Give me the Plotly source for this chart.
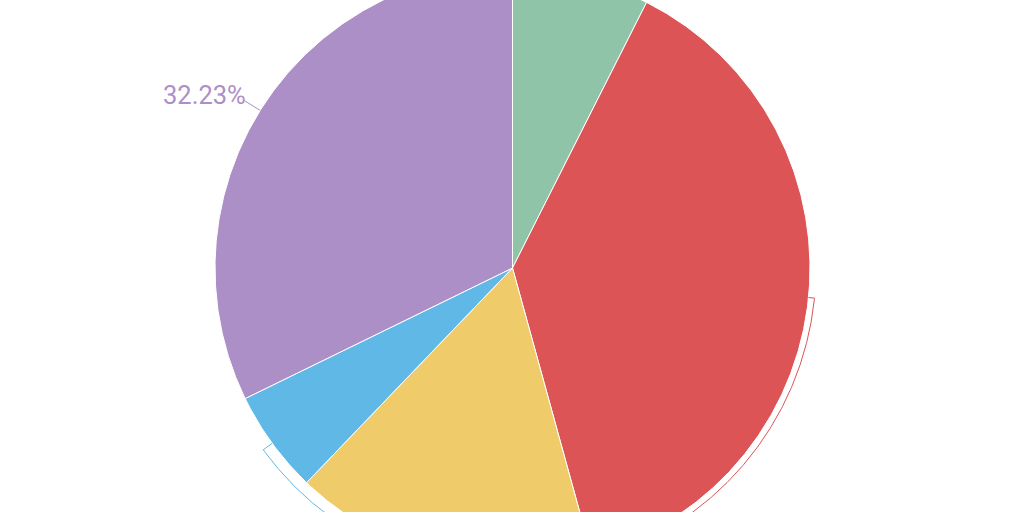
import numpy as np
import plotly.graph_objects as go

# slice data, clockwise from 12 o'clock
categories = ['A', 'B', 'C', 'D', 'E']
values = [7.44, 38.28, 16.45, 5.60, 32.23]
colors = ['#8fc4a9', '#dc5455', '#efcb6a', '#5fb8e6', '#ad8fc7']
labelled = ['E']                 # only this slice shows its label
arc_slices = {'B': 1.020, 'D': 1.037}   # slices with a curved guide line, radius in pie radii

# pixel geometry of the 1024x512 page
W, H = 1024, 512
CX, CY, R_PX = 512.5, 268, 297.5


def polar_xy(angle_deg, r):
    a = np.radians(angle_deg)
    return r * np.sin(a), r * np.cos(a)


total = sum(values)
bounds = np.concatenate([[0], np.cumsum(values) / total * 360])

fig = go.Figure()

for i, name in enumerate(categories):
    a0, a1 = bounds[i], bounds[i + 1]
    ang = np.linspace(a0, a1, max(int((a1 - a0) * 3), 4))
    ax, ay = polar_xy(ang, 1.0)
    fig.add_trace(go.Scatter(
        x=np.concatenate([[0], ax, [0]]),
        y=np.concatenate([[0], ay, [0]]),
        fill='toself', fillcolor=colors[i], mode='lines',
        line=dict(color='white', width=1),
        name=name, hoveron='fills',
        text=f'{name}: {values[i] / total * 100:.2f}%', hoverinfo='text'
    ))

for i, name in enumerate(categories):
    mid = (bounds[i] + bounds[i + 1]) / 2
    if name in arc_slices:
        r = arc_slices[name]
        end = 180
        ang = np.linspace(mid, end, int(abs(end - mid) * 3))
        ax, ay = polar_xy(ang, r)
        tx, ty = polar_xy(mid, 1.0)
        fig.add_trace(go.Scatter(
            x=np.concatenate([[tx], ax]), y=np.concatenate([[ty], ay]),
            mode='lines', line=dict(color=colors[i], width=1),
            hoverinfo='skip', showlegend=False
        ))
    if name in labelled:
        x0, y0 = polar_xy(mid, 1.0)
        x1, y1 = polar_xy(mid, 1.062)
        fig.add_trace(go.Scatter(
            x=[x0, x1], y=[y0, y1], mode='lines',
            line=dict(color=colors[i], width=1),
            hoverinfo='skip', showlegend=False
        ))
        fig.add_annotation(
            x=x1, y=y1, text=f'{values[i] / total * 100:.2f}%',
            showarrow=False, xanchor='right', yanchor='middle',
            xshift=3, yshift=6,
            font=dict(family='Roboto', size=25.5, color=colors[i])
        )

fig.update_xaxes(range=[-CX / R_PX, (W - CX) / R_PX], visible=False, fixedrange=True)
fig.update_yaxes(range=[-(H - CY) / R_PX, CY / R_PX], visible=False, fixedrange=True)
fig.update_layout(
    width=W, height=H,
    margin=dict(l=0, r=0, t=0, b=0),
    plot_bgcolor='white', paper_bgcolor='white',
    showlegend=False
)

# drop the default body margin so the figure sits at the page corner
fig.write_html('out.html', config={'displayModeBar': False},
               post_script="document.body.style.margin='0';")
